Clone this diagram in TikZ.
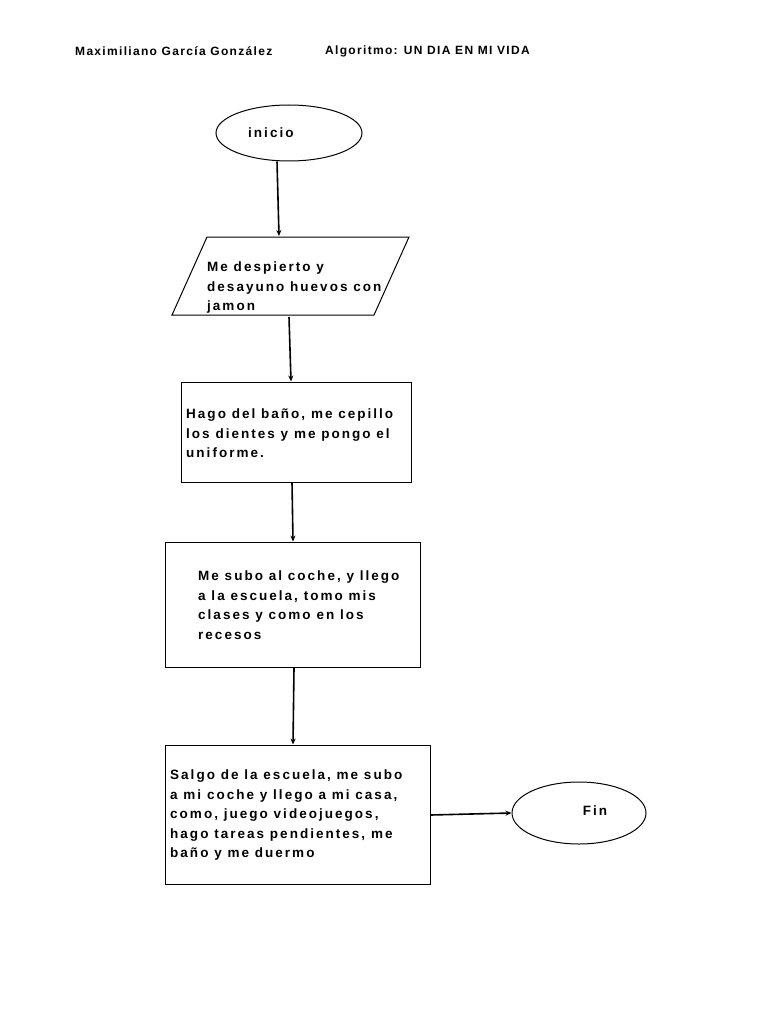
\documentclass[tikz,border=0pt]{standalone}
\usepackage{fontspec}
\setmainfont{Liberation Sans}
\newfontfamily\spaced[LetterSpace=15]{Liberation Sans}
\newfontfamily\hspaced[LetterSpace=11]{Liberation Sans}
\usetikzlibrary{shapes.geometric,arrows.meta}
\begin{document}
\begin{tikzpicture}[x=1pt,y=-1pt,
  box/.style={draw,line width=1pt,rectangle,inner sep=0},
  oval/.style={draw,line width=1pt,ellipse,inner sep=0},
  txt/.style={anchor=north west,align=left,font=\spaced\fontsize{13.5}{19.5}\selectfont\bfseries,inner sep=0},
  hd/.style={anchor=west,font=\hspaced\fontsize{12}{14}\selectfont\bfseries,inner sep=0},
  arr/.style={line width=1.6pt,-{Stealth[length=6pt,width=5pt]}}]
\useasboundingbox (0,0) rectangle (768,1024);
\node[hd] (h1) at (75,51) {Maximiliano García González};
\node[hd] (h2) at (325,51) {Algoritmo: UN DIA EN MI VIDA};
\node[oval,minimum width=146,minimum height=56] (ini) at (289,133) {};
\node[txt,anchor=west] (tini) at (248,133) {inicio};
\draw[line width=1pt] (207,237) -- (409,237) -- (374,315) -- (172,315) -- cycle;
\coordinate (ptop) at (279,236);
\coordinate (pbot) at (289,317);
\node[txt] (t1) at (207,262) {Me despierto y\\desayuno huevos con\\jamon};
\node[box,minimum width=230,minimum height=100] (r2) at (296,432) {};
\node[txt] (t2) at (186,409) {Hago del baño, me cepillo\\los dientes y me pongo el\\uniforme.};
\node[box,minimum width=255,minimum height=125] (r3) at (292.5,604.5) {};
\node[txt] (t3) at (198,571) {Me subo al coche, y llego\\a la escuela, tomo mis\\clases y como en los\\recesos};
\node[box,minimum width=265,minimum height=139] (r4) at (297.5,814.5) {};
\node[txt] (t4) at (170,770) {Salgo de la escuela, me subo\\a mi coche y llego a mi casa,\\como, juego videojuegos,\\hago tareas pendientes, me\\baño y me duermo};
\node[oval,minimum width=134,minimum height=62] (fin) at (579,813) {};
\node[txt,anchor=center] (tfin) at (595,811) {Fin};
\draw[arr] (ini.south) ++(-12,0) coordinate (a0) -- (ptop);
\draw[arr] (pbot) -- (r2.north -| 291,0);
\draw[arr] (r2.south -| 292,0) -- (r3.north -| 293,0);
\draw[arr] (r3.south -| 294,0) -- (r4.north -| 293,0);
\draw[arr] (r4.east |- 0,815) -- (fin.west |- 0,813);
\end{tikzpicture}
\end{document}
